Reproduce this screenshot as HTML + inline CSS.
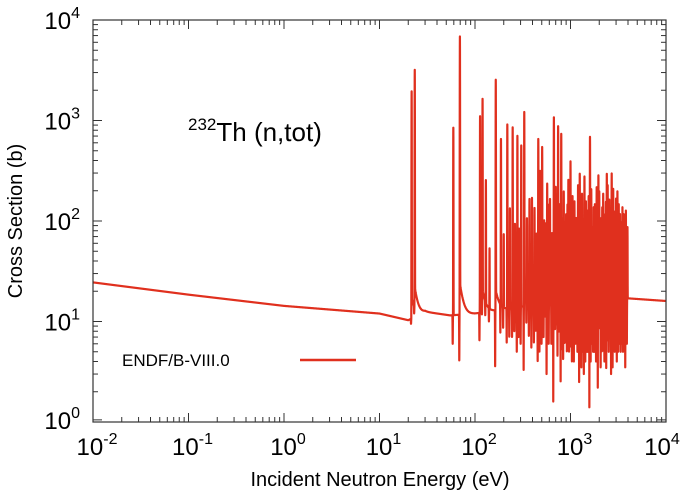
<!DOCTYPE html>
<html><head><meta charset="utf-8"><style>
html,body{margin:0;padding:0;background:#fff;}
svg{display:block;font-family:"Liberation Sans",sans-serif;}
</style></head><body>
<svg id="chart" width="685" height="496" viewBox="0 0 685 496" xmlns="http://www.w3.org/2000/svg">
<g id="ticks"></g>
<g id="labels"></g>
<path id="series" fill="none" stroke="#e0301e" stroke-width="2.2" stroke-linejoin="round"></path>
<rect x="93" y="20" width="573" height="402" fill="none" stroke="#333" stroke-width="1.2"/>
<text x="188" y="141" font-size="26" fill="#000"><tspan font-size="17" dy="-11">232</tspan><tspan dy="11">Th (n,tot)</tspan></text>
<text x="122" y="366" font-size="17" fill="#000">ENDF/B-VIII.0</text>
<line x1="300" y1="360" x2="356" y2="360" stroke="#e0301e" stroke-width="2.4"/>
<text x="380" y="486" font-size="20" text-anchor="middle">Incident Neutron Energy (eV)</text>
<text transform="translate(22,221) rotate(-90)" font-size="20" text-anchor="middle">Cross Section (b)</text>
</svg>
<script>
const xDecades = [-2,-1,0,1,2,3,4];
const yDecades = [0,1,2,3,4];
const bgE = [0.01,0.1,1,10,20,30,55,100,300,1000,4000,10000];
const bgV = [24.5,18.5,14.3,12,10.3,12.5,11.5,12,14,17,17,16];
const resE = [21.7,23.4,59.3,69.5,113,120,130,165,187,218,248,278,305,328,395,460,505,570,670,742,800,1000,1250,1400,1600,1960,2400,2700,3000,3800];
const resPeak = [1940,3180,837,6840,1090,1630,240,2530,640,900,840,690,550,1200,155,640,530,220,1060,860,720,375,290,260,670,270,280,280,150,110];
const resDip = [9.5,9,6,4.1,6.5,9,8,3.5,6,6,7,5,6,3.3,5,4,6,3,1.6,3,2,3.5,2.5,3,1.4,2.2,2,3,2.5,3.5];
const fillE = [142,200,232,262,290,350,372,420,440,480,530,540,600,610,640,700,720,770,830,850,880,900,930,950,980,1050,1100,1150,1200,1270,1320,1360,1450,1500,1550,1650,1700,1750,1800,1880,2000,2100,2150,2200,2300,2350,2450,2550,2600,2800,2850,2950,3100,3200,3300,3400,3500,3600,3700,3950];
const fillPeak = [40,60,120,80,70,90,150,120,60,300,90,80,140,150,60,200,110,130,90,180,70,100,130,240,80,160,140,90,210,120,170,80,140,110,160,190,70,120,130,200,180,90,120,170,100,140,210,150,90,200,90,120,180,130,100,80,120,100,90,70];
const fillDip = [9,8,7,8,7,7,6,6,8,5,7,7,6,5,6,5,7,7,5,4,6,6,5,5,5,4,4,6,5,5,3.5,5,4,5,5,4,6,5,5,4,5,3.5,5,5,4,5,3.5,5,5,3.5,5,5,4,5,6,5,6,5,6,6];

const X0=93,X1=666,Y0=422,Y1=20;
const xs = e => X0 + (Math.log10(e)+2)/6*(X1-X0);
const ys = v => Y0 - Math.log10(Math.max(v,1.05))/4*(Y0-Y1);
function bg(e){
  const l=Math.log10(e);
  for(let i=0;i<bgE.length-1;i++){
    const a=Math.log10(bgE[i]),b=Math.log10(bgE[i+1]);
    if(l>=a&&l<=b){const t=(l-a)/(b-a);return Math.pow(10,Math.log10(bgV[i])*(1-t)+Math.log10(bgV[i+1])*t);}
  }
  return bgV[bgV.length-1];
}
const NS='http://www.w3.org/2000/svg';
const tg=document.getElementById('ticks'), lg=document.getElementById('labels');
function ln(x1,y1,x2,y2){const l=document.createElementNS(NS,'line');
l.setAttribute('x1',x1);l.setAttribute('y1',y1);l.setAttribute('x2',x2);l.setAttribute('y2',y2);
l.setAttribute('stroke','#333');l.setAttribute('stroke-width','1');


tg.appendChild(l);}
function lab(x,y,p,anchor){const t=document.createElementNS(NS,'text');
t.setAttribute('x',x);t.setAttribute('y',y);t.setAttribute('font-size','24');t.setAttribute('text-anchor',anchor);
t.innerHTML='10<tspan font-size="16" dy="-11">'+p+'</tspan>';


lg.appendChild(t);}
xDecades.forEach((d,i)=>{
  const x=xs(Math.pow(10,d));
  ln(x,Y0,x,Y0-9);ln(x,Y1,x,Y1+9);
  lab(i===xDecades.length-1?x-4:x+4,455,d,'middle');
  if(i<xDecades.length-1)for(let k=2;k<10;k++){const xm=xs(k*Math.pow(10,d));ln(xm,Y0,xm,Y0-5);ln(xm,Y1,xm,Y1+5);}
});
yDecades.forEach((d,i)=>{
  const y=ys(Math.pow(10,d));
  ln(X0,y,X0+9,y);ln(X1,y,X1-9,y);
  lab(80,y+9,d,'end');
  if(i<yDecades.length-1)for(let k=2;k<10;k++){const ym=ys(k*Math.pow(10,d));ln(X0,ym,X0+5,ym);ln(X1,ym,X1-5,ym);}
});
const all=[];
resE.forEach((e,i)=>all.push([e,resPeak[i],resDip[i]]));
fillE.forEach((e,i)=>all.push([e,fillPeak[i],fillDip[i]]));
const PW=0.003, DC=0.985, DW=0.004;
function sigma(e){
  const b=bg(e); let base=b;
  all.forEach(r=>{
    const xd=(e-r[0]*DC)/(r[0]*DW);
    base*=1-(1-Math.min(r[2]/b,1))*Math.exp(-xd*xd);
  });
  let s=base;
  all.forEach(r=>{
    const x=(e-r[0])/(r[0]*PW);
    s+=r[1]*Math.exp(-x*x);
    if(e>r[0] && r[1]>=1000) s+=Math.sqrt(r[1])*0.15*Math.exp(-(e-r[0])/(r[0]*0.08))*(1-Math.exp(-x*x*0.5));
  });
  return s;
}
let es=[];
for(let i=0;i<=9000;i++)es.push(Math.pow(10,-2+i*6/9000));
all.forEach(r=>{const G=r[0]*PW;[-3,-2,-1,-0.5,0,0.5,1,2,3].forEach(k=>es.push(r[0]+k*G));
  const D=r[0]*DW;[-2,-1,0,1,2].forEach(k=>es.push(r[0]*DC+k*D));});
es.sort((a,b)=>a-b);
document.getElementById('series').setAttribute('d',es.map((e,i)=>(i?'L':'M')+xs(e).toFixed(2)+' '+ys(sigma(e)).toFixed(2)).join(' '));
</script>
</body></html>
